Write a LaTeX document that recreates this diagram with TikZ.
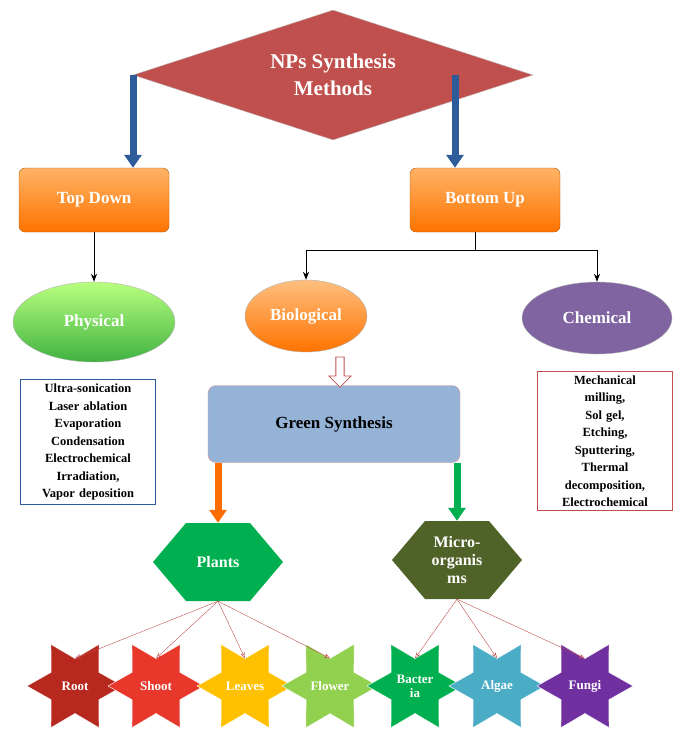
\documentclass[tikz,border=0pt]{standalone}
\usepackage{fontspec}
\setmainfont{Liberation Serif}
\usetikzlibrary{shapes.geometric,shapes.arrows,arrows.meta,positioning}
\definecolor{npred}{HTML}{C0504D}
\definecolor{npblue}{HTML}{2E5C9A}
\definecolor{gsblue}{HTML}{95B3D7}
\definecolor{chempurple}{HTML}{8064A2}
\definecolor{rootred}{HTML}{B7281E}
\definecolor{shootred}{HTML}{E8382B}
\definecolor{leafgold}{HTML}{FFC000}
\definecolor{flowergreen}{HTML}{92D050}
\definecolor{bactgreen}{HTML}{00B050}
\definecolor{algaeblue}{HTML}{4BACC6}
\definecolor{fungipurple}{HTML}{7030A0}
\definecolor{microolive}{HTML}{4F6228}
\tikzset{
  box/.style={rectangle, rounded corners=6pt, draw=orange!70!black, top color=orange!60, bottom color=orange!90!red,
    text=white, font=\bfseries\fontsize{17}{19}\selectfont, minimum width=150pt, minimum height=64pt},
  oval/.style={ellipse, draw=gray!60, text=white, font=\bfseries\fontsize{17}{19}\selectfont},
  list/.style={rectangle, draw, thick, align=center, font=\bfseries\fontsize{12.5}{17.5}\selectfont, inner sep=4pt},
  sixstar/.style={star, star points=6, star point ratio=1.75, shape border rotate=90, minimum size=96pt, inner sep=0pt,
    draw=white, text=white, font=\bfseries\fontsize{13}{14}\selectfont, align=center},
  fat/.style={line width=7pt, -{Triangle[width=17pt,length=13pt]}},
  twig/.style={draw=npred, -{Stealth[length=6pt,open]}},
}
\newcommand{\hexnode}[5]{% name, x, y, colour, text
  \fill[#4] (#2-65,#3) -- (#2-32,#3-39) -- (#2+32,#3-39) -- (#2+65,#3) -- (#2+32,#3+39) -- (#2-32,#3+39) -- cycle;
  \node[text=white, align=center, font=\bfseries\fontsize{16}{18}\selectfont, minimum width=130pt, minimum height=78pt] (#1) at (#2,#3) {#5};}
\begin{document}
\begin{tikzpicture}[x=1pt, y=-1pt]
  \useasboundingbox (0,0) rectangle (685,732);
  % top
  \node[diamond, draw=gray!50, fill=npred, minimum width=400pt, minimum height=130pt, aspect=3,
    text=white, align=center, font=\bfseries\fontsize{21}{27}\selectfont] (npsm) at (333,75) {NPs Synthesis\\Methods};
  \node[box] (topdown) at (94,200) {Top Down};
  \node[box] (bottomup) at (485,200) {Bottom Up};
  \coordinate (la) at (133,75);
  \coordinate (ra) at (455,75);
  \draw[fat, npblue] (la) -- (topdown.north -| la);
  \draw[fat, npblue] (ra) -- (bottomup.north -| ra);
  % second row
  \node[oval, minimum width=162pt, minimum height=80pt, top color=lime!60!green!50, bottom color=green!60!black!75] (physical) at (94,322) {Physical};
  \node[oval, minimum width=122pt, minimum height=72pt, top color=orange!50, bottom color=orange!90!red] (biological) at (306,316) {Biological};
  \node[oval, minimum width=150pt, minimum height=72pt, fill=chempurple] (chemical) at (597,318) {Chemical};
  \draw[-{Stealth[length=8pt]}, thick] (topdown) -- (physical);
  \coordinate (split) at (475,250);
  \draw[thick] (bottomup.south -| split) -- (split);
  \draw[-{Stealth[length=8pt]}, thick] (split) -| (biological.north);
  \draw[-{Stealth[length=8pt]}, thick] (split) -| (chemical.north);
  \node[list, draw=npblue, text width=127pt] (physlist) at (88,442) {Ultra-sonication\\Laser ablation\\Evaporation\\Condensation\\Electrochemical\\Irradiation,\\Vapor deposition};
  \node[list, draw=npred, text width=127pt] (chemlist) at (605,441) {Mechanical\\milling,\\Sol gel,\\Etching,\\Sputtering,\\Thermal\\decomposition,\\Electrochemical};
  % green synthesis
  \node[rectangle, rounded corners=8pt, draw=npred!60, fill=gsblue, minimum width=252pt, minimum height=77pt,
    font=\bfseries\fontsize{17}{19}\selectfont] (green) at (334,424) {Green Synthesis};
  \node[single arrow, draw=npred, fill=white, thick, rotate=-90, minimum height=30pt, minimum width=22pt,
    single arrow head extend=4pt, inner sep=2pt] (hollow) at (340,370) {};
  \hexnode{plants}{218}{562}{bactgreen}{Plants}
  \hexnode{micro}{457}{560}{microolive}{Micro-\\organis\\ms}
  \draw[fat, orange!85!red] (green.south -| plants) -- (plants.north);
  \draw[fat, bactgreen] (green.south -| micro) -- (micro.north);
  % stars
  \foreach \n/\x/\c/\t in {root/75/rootred/Root, shoot/156/shootred/Shoot, leaves/245/leafgold/Leaves,
      flower/330/flowergreen/Flower, bacteria/415/bactgreen/Bacter\\ia, algae/497/algaeblue/Algae, fungi/585/fungipurple/Fungi}
    \node[sixstar, fill=\c] (\n) at (\x,686) {\t};
  \foreach \n in {root, shoot, leaves, flower}
    \draw[twig] (plants.south) -- (\n.north);
  \foreach \n in {bacteria, algae, fungi}
    \draw[twig] (micro.south) -- (\n.north);
\end{tikzpicture}
\end{document}
